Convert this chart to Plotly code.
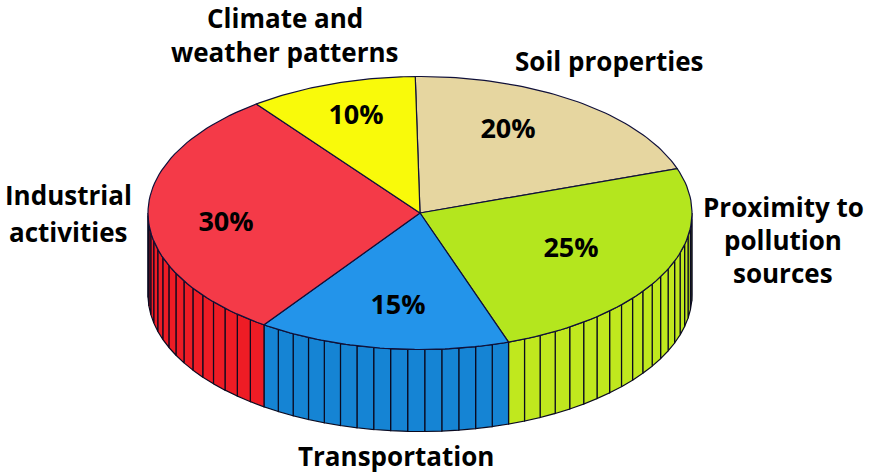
import numpy as np
import plotly.graph_objects as go

categories = ["Soil properties", "Proximity to<br>pollution<br>sources", "Transportation",
              "Industrial<br>activities", "Climate and<br>weather patterns"]
values = [20, 25, 15, 30, 10]
top_colors = ["#E6D6A0", "#B4E61E", "#2394EA", "#F43A48", "#F9FA0A"]
side_colors = ["#E6D6A0", "#C0E81E", "#1584D4", "#EE1C25", "#F9FA0A"]
label_x = [609, 783, 396, 68, 285]
# y of each text line, the lines of these labels are not evenly spaced
label_y = [[61], [207, 240, 273], [456], [195, 232], [18, 52]]
pct_x = [508, 571, 398, 226, 356]
pct_y = [131, 250, 307, 224, 117]

FONT = "Open Sans"
CX, CY, RX, RY = 420, 213, 272, 136.5
DEPTH = 82
START = 91
OUTLINE = "#10103a"


def ell(a, dy=0.0):
    r = np.radians(a)
    return CX + RX * np.cos(r), CY - RY * np.sin(r) + dy


fig = go.Figure()

# side wall first, one stripe per percent
angle = START
for val, col in zip(values, side_colors):
    a0, a1 = angle, angle - val * 3.6
    angle = a1
    for p in range(val):
        s0, s1 = a0 - p * 3.6, a0 - (p + 1) * 3.6
        # only the front half of the cake shows
        s0, s1 = [t if np.sin(np.radians(t)) < 0 else None for t in (s0, s1)]
        if s0 is None and s1 is None:
            continue
        if s0 is None:
            s0 = 360 * np.floor((s1 + 180) / 360)
        if s1 is None:
            s1 = 360 * np.floor((s0 + 180) / 360) - 180
        t = np.linspace(s0, s1, 6)
        xt, yt = ell(t)
        xb, yb = ell(t[::-1], DEPTH)
        fig.add_trace(go.Scatter(
            x=np.r_[xt, xb, xt[0]], y=np.r_[yt, yb, yt[0]], mode="lines",
            fill="toself", fillcolor=col, line=dict(color="#0a0a20", width=1.2),
            hoverinfo="skip", showlegend=False))

# top face
angle = START
for val, col in zip(values, top_colors):
    t = np.linspace(angle, angle - val * 3.6, 60)
    angle = angle - val * 3.6
    xs, ys = ell(t)
    fig.add_trace(go.Scatter(
        x=np.r_[CX, xs, CX], y=np.r_[CY, ys, CY], mode="lines",
        fill="toself", fillcolor=col, line=dict(color=OUTLINE, width=1.2),
        hoverinfo="skip", showlegend=False))

fig.add_trace(go.Scatter(
    x=pct_x, y=pct_y, mode="text", text=[f"{v}%" for v in values],
    textfont=dict(family=FONT, size=27, color="black", weight="bold"),
    hoverinfo="skip", showlegend=False))

for name, lx, lys in zip(categories, label_x, label_y):
    for line, ly in zip(name.split("<br>"), lys):
        fig.add_annotation(x=lx, y=ly, text=line, showarrow=False, align="center",
                           font=dict(family=FONT, size=26, color="black", weight="bold"))

fig.update_layout(
    width=873, height=476, margin=dict(l=0, r=0, t=0, b=0),
    paper_bgcolor="white", plot_bgcolor="white",
    xaxis=dict(range=[0, 873], visible=False),
    yaxis=dict(range=[476, 0], visible=False),
)

# the page body has a default margin that would shift the figure
fig.write_html("out.html", config=dict(displayModeBar=False),
               post_script="document.body.style.margin='0';document.body.style.overflow='hidden';")
